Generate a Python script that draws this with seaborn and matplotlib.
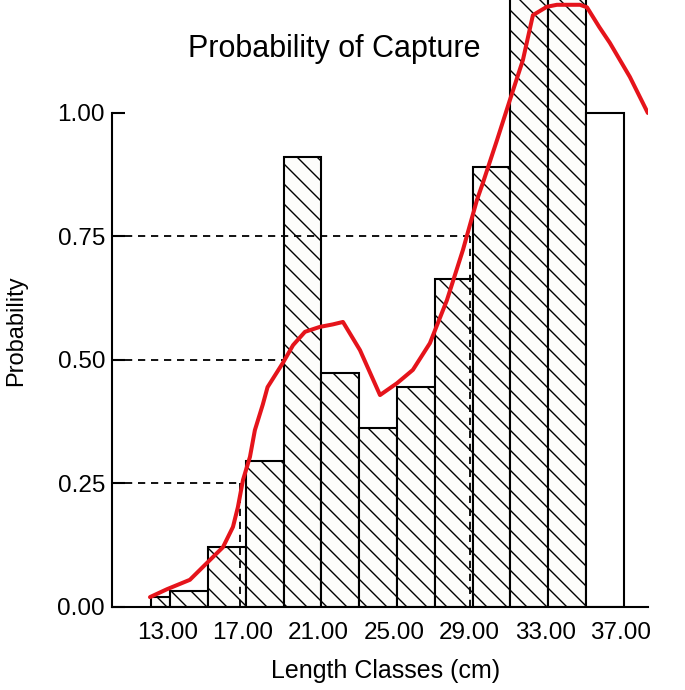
import matplotlib
matplotlib.use("Agg")
import numpy as np
import matplotlib.pyplot as plt
import matplotlib.transforms as mtransforms
import seaborn as sns

# length classes (bin edges, cm) and probability of capture per class
bin_edges = [13, 14, 16, 18, 20, 22, 24, 26, 28, 30, 32, 34, 36, 38]
probabilities = [0.020, 0.033, 0.121, 0.296, 0.911, 0.474, 0.362,
                 0.445, 0.664, 0.891, 1.30, 1.30, 1.00]

# fitted capture curve (red)
curve_x = [12.93, 13.83, 15.04, 15.94, 16.79, 17.32, 17.58, 17.85, 18.22,
           18.48, 18.90, 19.15, 19.96, 20.50, 21.13, 21.92, 22.60, 23.14,
           24.04, 25.10, 26.00, 26.84, 27.74, 28.64, 29.49, 30.23, 30.54,
           31.29, 31.97, 32.66, 33.19, 33.93, 34.46, 35.68, 36.05, 36.70,
           37.26, 38.32, 39.27]
curve_y = [0.020, 0.036, 0.055, 0.089, 0.121, 0.162, 0.202, 0.257, 0.304,
           0.358, 0.410, 0.445, 0.494, 0.530, 0.557, 0.567, 0.572, 0.577,
           0.520, 0.429, 0.453, 0.480, 0.534, 0.621, 0.723, 0.824, 0.858,
           0.945, 1.026, 1.107, 1.198, 1.215, 1.219, 1.219, 1.214, 1.174,
           1.142, 1.073, 1.000]

# L25 / L50 / L75 reference lines
ref_levels = [0.25, 0.50, 0.75]
ref_lengths = [17.69, 20.0, 29.86]

x_ticks = [13, 17, 21, 25, 29, 33, 37]
y_ticks = [0.0, 0.25, 0.50, 0.75, 1.00]

DPI = 120
k = 100 / DPI  # sizes below were measured for 100 dpi

sns.set_style("white")
plt.rcParams["font.family"] = ["Liberation Sans", "DejaVu Sans"]
plt.rcParams["hatch.linewidth"] = 1.0 * k
plt.rcParams["hatch.color"] = "black"
for key in ["text.color", "axes.labelcolor", "xtick.color", "ytick.color"]:
    plt.rcParams[key] = "black"

fig = plt.figure(figsize=(685 / DPI, 690 / DPI), dpi=DPI)
ax = fig.add_axes([0.1635, 0.1203, 0.7825, 0.8797])

centers = (np.array(bin_edges[:-1]) + np.array(bin_edges[1:])) / 2
sns.histplot(x=centers, weights=probabilities, bins=bin_edges, ax=ax,
             color="white", edgecolor="black", linewidth=1.5 * k, alpha=1)
for p in ax.patches[:-1]:
    p.set_hatch("\\\\")
    p.set_facecolor("#fdfdfb")

x_lo = 10.92
# dashed guides for the selection lengths
ax.hlines(ref_levels, xmin=x_lo, xmax=ref_lengths, colors="black",
          linewidth=1.3 * k, linestyles=(0, (4, 3.2)), zorder=3)
ax.vlines(ref_lengths, ymin=0, ymax=ref_levels, colors="black",
          linewidth=1.3 * k, linestyles=(0, (4, 3.2)), zorder=3)

sns.lineplot(x=curve_x, y=curve_y, sort=False, estimator=None, ax=ax,
             color="#e5141b", linewidth=2.9 * k, zorder=4)

ax.set_xlim(x_lo, 39.28)
ax.set_ylim(0, 1.2287)

ax.set_xticks(x_ticks)
ax.set_xticklabels([f"{v:.2f}" for v in x_ticks])
ax.set_yticks(y_ticks)
ax.set_yticklabels([f"{v:.2f}" for v in y_ticks])
ax.tick_params(axis="x", direction="in", length=6 * k, width=1.3 * k,
               pad=10.5 * k, labelsize=17.5 * k, bottom=True)
ax.tick_params(axis="y", direction="in", length=9.5 * k, width=1.5 * k,
               pad=5 * k, labelsize=17.5 * k, left=True)
# labels sit a bit right of their tick marks in the original
shift = mtransforms.ScaledTranslation(16 / DPI, 0, fig.dpi_scale_trans)
for lbl in ax.get_xticklabels():
    lbl.set_transform(lbl.get_transform() + shift)

sns.despine(ax=ax, top=True, right=True)
ax.spines["left"].set_bounds(0, 1)
for s in ["left", "bottom"]:
    ax.spines[s].set_linewidth(1.5 * k)
    ax.spines[s].set_color("black")

ax.set_xlabel("Length Classes (cm)", fontsize=18 * k)
ax.xaxis.set_label_coords(0.511, -0.0857)
ax.set_ylabel("Probability", fontsize=17 * k)
ax.yaxis.set_label_coords(-0.158, 0.455)

fig.text(334 / 685, 1 - 57 / 690, "Probability of Capture", fontsize=22 * k,
         ha="center", va="baseline")

fig.savefig("out.png", dpi=DPI, facecolor="white")
